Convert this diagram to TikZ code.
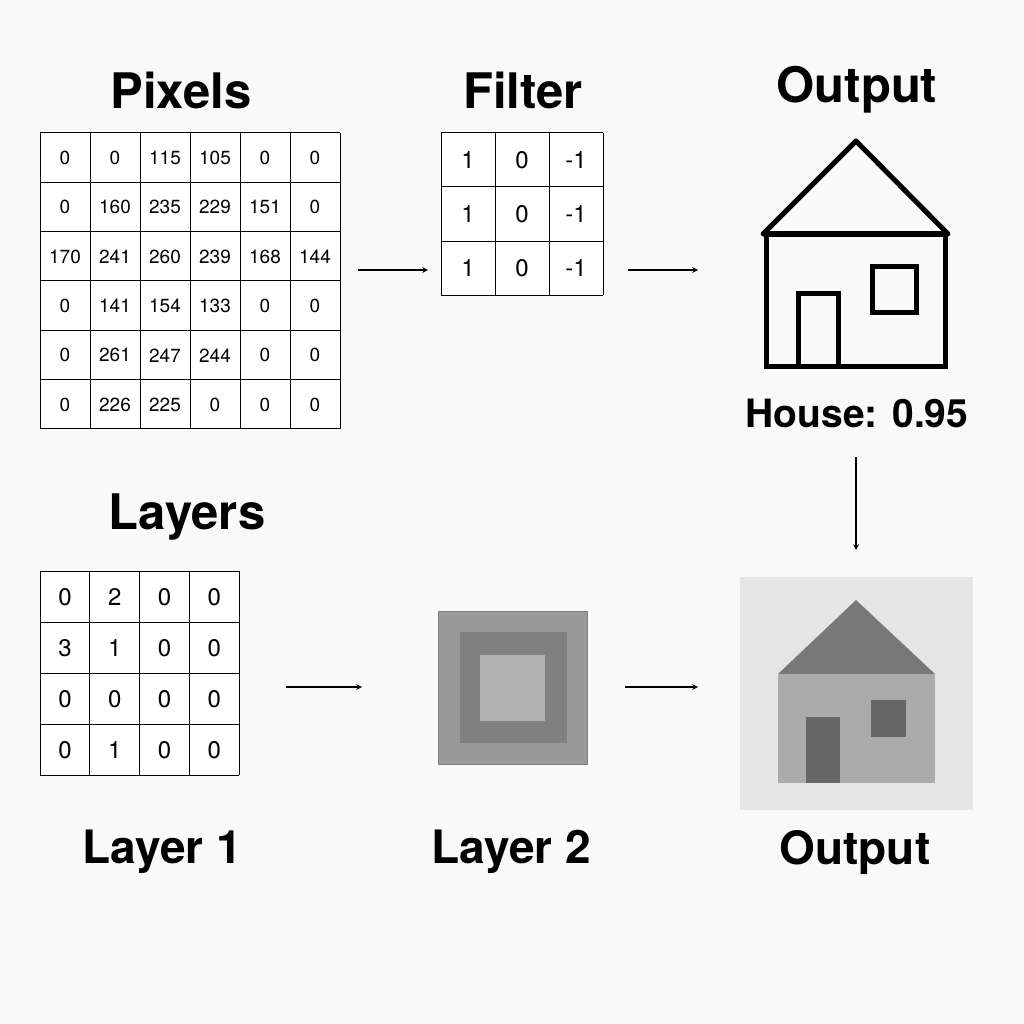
\documentclass[tikz,border=0pt]{standalone}
\usepackage{fontspec}
\setmainfont{TeX Gyre Heros}
\begin{document}
\begin{tikzpicture}[x=1pt,y=-1pt,
  title/.style={font=\fontsize{49}{49}\selectfont\bfseries},
  sub/.style={font=\fontsize{46}{46}\selectfont\bfseries},
  cell/.style={font=\fontsize{19}{19}\selectfont},
  bigcell/.style={font=\fontsize{24}{24}\selectfont},
  arr/.style={-stealth,line width=1.5pt},
  grid/.style={line width=1pt}]
\fill[white!97.5!black] (0,0) rectangle (1024,1024);
\useasboundingbox (0,0) rectangle (1024,1024);
% titles
\node[title] (tpix) at (181,90) {Pixels};
\node[title] (tfil) at (523,90) {Filter};
\node[title] (tout) at (857,90) {Output};
\node[font=\fontsize{39}{39}\selectfont\bfseries] (house) at (857,413) {House: 0.95};
\node[title] (tlay) at (187,517) {Layers};
\node[sub] (l1) at (162,852) {Layer 1};
\node[sub] (l2) at (511,852) {Layer 2};
\node[sub] (o2) at (855,852) {Output};
% pixels grid
\fill[white] (40,133) rectangle (340,429);
\foreach \i in {0,...,6} {\draw[grid] (40+50*\i,133) -- (40+50*\i,429);
  \draw[grid] (40,133+49.33*\i) -- (340,133+49.33*\i);}
\foreach \row [count=\r from 0] in {{0,0,115,105,0,0},{0,160,235,229,151,0},{170,241,260,239,168,144},{0,141,154,133,0,0},{0,261,247,244,0,0},{0,226,225,0,0,0}}
  \foreach \v [count=\c from 0] in \row
    \node[cell] at (65+50*\c,158+49.33*\r) {\v};
% filter
\fill[white] (441,133) rectangle (603,295);
\foreach \i in {0,...,3} {\draw[grid] (441+54*\i,133) -- (441+54*\i,295);
  \draw[grid] (441,133+54*\i) -- (603,133+54*\i);}
\foreach \r in {0,1,2} {
  \node[bigcell] at (468,160+54*\r) {1};
  \node[bigcell] at (522,160+54*\r) {0};
  \node[bigcell] at (576,160+54*\r) {-1};}
% outline house
\draw[line width=5pt,line join=round] (763,234) -- (856,141) -- (948,234) -- cycle;
\draw[line width=5pt] (766,234) rectangle (945,366);
\draw[line width=5pt] (798,366) -- (798,293) -- (838,293) -- (838,366);
\draw[line width=5pt] (872,266) rectangle (916,312);
% layers grid
\fill[white] (40,571) rectangle (239,775);
\foreach \i in {0,...,4} {\draw[grid] (40+49.75*\i,571) -- (40+49.75*\i,775);
  \draw[grid] (40,571+51*\i) -- (239,571+51*\i);}
\foreach \row [count=\r from 0] in {{0,2,0,0},{3,1,0,0},{0,0,0,0},{0,1,0,0}}
  \foreach \v [count=\c from 0] in \row
    \node[bigcell] at (65+49.75*\c,597+51*\r) {\v};
% layer 2 image
\fill[black!40] (438,611) rectangle (587,764);
\fill[black!50] (460,632) rectangle (567,743);
\fill[black!31] (480,655) rectangle (545,721);
\draw[black!50,line width=0.8pt] (438,611) rectangle (587,764);
% output image
\fill[black!10] (740,577) rectangle (973,810);
\fill[black!53] (778,674) -- (856,600) -- (935,674) -- cycle;
\fill[black!33] (778,674) rectangle (935,783);
\fill[black!60] (806,717) rectangle (840,783);
\fill[black!60] (871,700) rectangle (906,737);
% arrows
\coordinate (a1) at (358,270); \coordinate (b1) at (428,270);
\coordinate (a2) at (628,270); \coordinate (b2) at (698,270);
\coordinate (a3) at (856,457); \coordinate (b3) at (856,550);
\coordinate (a4) at (286,687); \coordinate (b4) at (362,687);
\coordinate (a5) at (625,687); \coordinate (b5) at (698,687);
\draw[arr] (a1) -- (b1);
\draw[arr] (a2) -- (b2);
\draw[arr] (a3) -- (b3);
\draw[arr] (a4) -- (b4);
\draw[arr] (a5) -- (b5);
\end{tikzpicture}
\end{document}
